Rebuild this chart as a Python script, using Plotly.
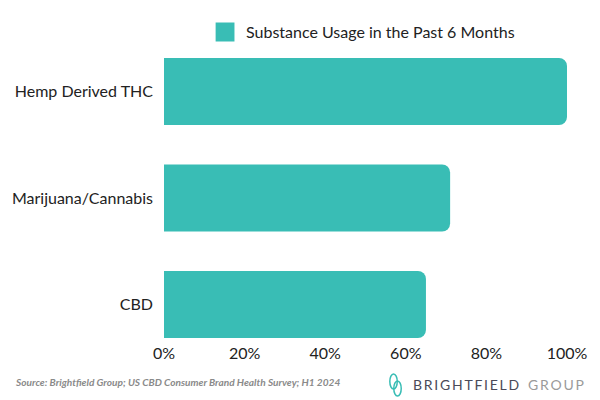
import plotly.graph_objects as go

categories = ["Hemp Derived THC", "Marijuana/Cannabis", "CBD"]
values = [100, 71, 65]
series_name = "Substance Usage in the Past 6 Months"
tick_vals = [0, 20, 40, 60, 80, 100]
tick_text = ["0%", "20%", "40%", "60%", "80%", "100%"]
source_text = "Source: Brightfield Group; US CBD Consumer Brand Health Survey; H1 2024"

W, H = 600, 400
L, R, T, B = 164, 30, 55, 58
TEAL = "#39BDB5"
pw, ph = W - L - R, H - T - B


def px(x):
    return (x - L) / pw


def py(y):
    return (H - B - y) / ph


fig = go.Figure()
fig.add_trace(go.Bar(
    y=categories, x=values, orientation="h", name=series_name,
    marker=dict(color=TEAL, line=dict(width=0)), showlegend=False,
    hoverinfo="x+y",
))

shapes = [
    dict(type="rect", xref="paper", yref="paper",
         x0=px(216), x1=px(235), y0=py(41.5), y1=py(22.5),
         fillcolor=TEAL, line=dict(width=0)),
    # logo icon: two interlocking loops
    dict(type="circle", xref="paper", yref="paper",
         x0=px(391.5), x1=px(399), y0=py(389), y1=py(374),
         line=dict(color=TEAL, width=1.5)),
    dict(type="circle", xref="paper", yref="paper",
         x0=px(395.5), x1=px(403), y0=py(396), y1=py(381),
         line=dict(color=TEAL, width=1.5)),
]

annotations = [
    dict(text=series_name, xref="paper", yref="paper",
         x=px(245), y=py(32), xanchor="left", yanchor="middle",
         showarrow=False, font=dict(size=16, color="#222222", family="Lato")),
    dict(text="<b><i>" + source_text + "</i></b>", xref="paper", yref="paper",
         x=px(12), y=py(382), xanchor="left", yanchor="middle",
         showarrow=False, font=dict(size=10.1, color="#8a8a8a", family="Lato")),
    dict(text="B\u2009R\u2009I\u2009G\u2009H\u2009T\u2009F\u2009I\u2009E\u2009L\u2009D",
         xref="paper", yref="paper",
         x=px(413), y=py(385), xanchor="left", yanchor="middle",
         showarrow=False, font=dict(size=14, color="#4a4a58", family="Lato")),
    dict(text="G\u2009R\u2009O\u2009U\u2009P",
         xref="paper", yref="paper",
         x=px(589), y=py(385), xanchor="right", yanchor="middle",
         showarrow=False, font=dict(size=14, color="#9a9a9a", family="Lato")),
]

fig.update_layout(
    width=W, height=H,
    margin=dict(l=L, r=R, t=T, b=B),
    paper_bgcolor="white", plot_bgcolor="white",
    bargap=0.37, barcornerradius=8,
    font=dict(family="Lato", size=16, color="#222222"),
    shapes=shapes, annotations=annotations,
    showlegend=False,
)
fig.update_xaxes(range=[0, 100], tickvals=tick_vals, ticktext=tick_text,
                 showgrid=False, zeroline=False, showline=False, ticks="",
                 tickfont=dict(size=16, color="#222222"))
fig.update_yaxes(categoryorder="array", categoryarray=categories,
                 range=[2.352, -0.343], showgrid=False, zeroline=False,
                 showline=False, ticks="", ticklabelstandoff=10,
                 tickfont=dict(size=16, color="#222222"))

fig.write_html("out.html", config={"displayModeBar": False},
               post_script="document.body.style.margin='0';")
